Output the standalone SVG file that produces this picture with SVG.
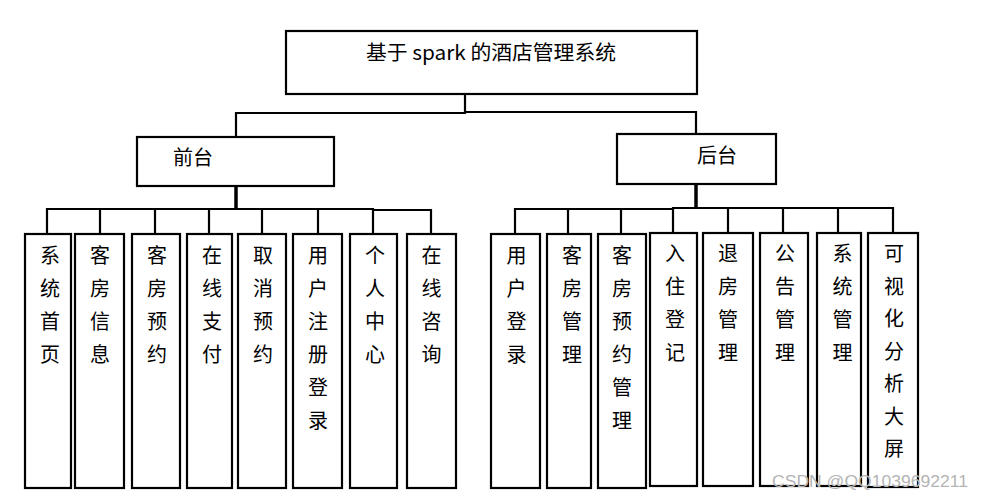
<svg xmlns="http://www.w3.org/2000/svg" width="984" height="501" viewBox="0 0 984 501">
<style>
.box{fill:#fff;stroke:#000;stroke-width:2.2}
.ln{fill:none;stroke:#000;stroke-width:2.2}
.thick{fill:none;stroke:#000;stroke-width:3.5}
.t{font-family:"Noto Sans CJK SC","Noto Sans CJK JP",sans-serif;font-size:20px;fill:#000}
.v{font-family:"Noto Sans CJK SC","Noto Sans CJK JP",sans-serif;font-size:20px;fill:#000;text-anchor:middle}
.wm{font-family:"Liberation Sans",Arial,sans-serif;font-size:16px;fill:#b4b4b4}
</style>
<rect width="984" height="501" fill="#fff"/>
<g id="connectors">
<polyline class="ln" points="465,94 465,113 236,113 236,137"/>
<polyline class="ln" points="465,112 696,112 696,134"/>
<line class="thick" x1="236" y1="186" x2="236" y2="209"/>
<line class="ln" x1="47" y1="209" x2="373" y2="209"/>
<line class="ln" x1="373" y1="210" x2="431" y2="210"/>
<line class="ln" x1="47" y1="208" x2="47" y2="234"/>
<line class="ln" x1="100" y1="208" x2="100" y2="234"/>
<line class="ln" x1="155" y1="208" x2="155" y2="234"/>
<line class="ln" x1="209" y1="208" x2="209" y2="234"/>
<line class="ln" x1="262" y1="208" x2="262" y2="234"/>
<line class="ln" x1="318" y1="208" x2="318" y2="234"/>
<line class="ln" x1="373" y1="208" x2="373" y2="234"/>
<line class="ln" x1="431" y1="209" x2="431" y2="234"/>
<line class="thick" x1="696" y1="184" x2="696" y2="208"/>
<line class="ln" x1="515" y1="209" x2="673" y2="209"/>
<line class="ln" x1="673" y1="208" x2="893" y2="208"/>
<line class="ln" x1="515" y1="208" x2="515" y2="234"/>
<line class="ln" x1="568" y1="208" x2="568" y2="234"/>
<line class="ln" x1="621" y1="208" x2="621" y2="234"/>
<line class="ln" x1="673" y1="207" x2="673" y2="233"/>
<line class="ln" x1="728" y1="207" x2="728" y2="233"/>
<line class="ln" x1="783" y1="207" x2="783" y2="233"/>
<line class="ln" x1="838" y1="207" x2="838" y2="233"/>
<line class="ln" x1="893" y1="207" x2="893" y2="233"/>
</g>
<g id="root">
<rect class="box" x="286" y="31" width="411" height="63"/>
<text class="t" x="366" y="59.5" textLength="250" lengthAdjust="spacingAndGlyphs">基于 spark 的酒店管理系统</text>
</g>
<g id="front">
<rect class="box" x="137" y="137" width="197" height="49"/>
<text class="t" x="173" y="165">前台</text>
</g>
<g id="back">
<rect class="box" x="617" y="134" width="159" height="50"/>
<text class="t" x="697" y="162.5">后台</text>
</g>
<g id="f1"><rect class="box" x="25" y="234" width="46" height="254"/><text class="v" x="50" y="262.5"><tspan x="50">系</tspan><tspan x="50" dy="33">统</tspan><tspan x="50" dy="33">首</tspan><tspan x="50" dy="33">页</tspan></text></g>
<g id="f2"><rect class="box" x="75" y="234" width="49" height="254"/><text class="v" x="100" y="262.5"><tspan x="100">客</tspan><tspan x="100" dy="33">房</tspan><tspan x="100" dy="33">信</tspan><tspan x="100" dy="33">息</tspan></text></g>
<g id="f3"><rect class="box" x="132" y="234" width="48" height="254"/><text class="v" x="157" y="262.5"><tspan x="157">客</tspan><tspan x="157" dy="33">房</tspan><tspan x="157" dy="33">预</tspan><tspan x="157" dy="33">约</tspan></text></g>
<g id="f4"><rect class="box" x="187" y="234" width="45" height="254"/><text class="v" x="212" y="262.5"><tspan x="212">在</tspan><tspan x="212" dy="33">线</tspan><tspan x="212" dy="33">支</tspan><tspan x="212" dy="33">付</tspan></text></g>
<g id="f5"><rect class="box" x="238" y="234" width="48" height="254"/><text class="v" x="263" y="262.5"><tspan x="263">取</tspan><tspan x="263" dy="33">消</tspan><tspan x="263" dy="33">预</tspan><tspan x="263" dy="33">约</tspan></text></g>
<g id="f6"><rect class="box" x="293" y="234" width="49" height="254"/><text class="v" x="318" y="262.5"><tspan x="318">用</tspan><tspan x="318" dy="33">户</tspan><tspan x="318" dy="33">注</tspan><tspan x="318" dy="33">册</tspan><tspan x="318" dy="33">登</tspan><tspan x="318" dy="33">录</tspan></text></g>
<g id="f7"><rect class="box" x="350" y="234" width="47" height="254"/><text class="v" x="375" y="262.5"><tspan x="375">个</tspan><tspan x="375" dy="33">人</tspan><tspan x="375" dy="33">中</tspan><tspan x="375" dy="33">心</tspan></text></g>
<g id="f8"><rect class="box" x="407" y="234" width="49" height="254"/><text class="v" x="431.5" y="262.5"><tspan x="431.5">在</tspan><tspan x="431.5" dy="33">线</tspan><tspan x="431.5" dy="33">咨</tspan><tspan x="431.5" dy="33">询</tspan></text></g>
<g id="b1"><rect class="box" x="491" y="234" width="49" height="254"/><text class="v" x="516.5" y="262.5"><tspan x="516.5">用</tspan><tspan x="516.5" dy="33">户</tspan><tspan x="516.5" dy="33">登</tspan><tspan x="516.5" dy="33">录</tspan></text></g>
<g id="b2"><rect class="box" x="547" y="234" width="44" height="254"/><text class="v" x="572" y="262.5"><tspan x="572">客</tspan><tspan x="572" dy="33">房</tspan><tspan x="572" dy="33">管</tspan><tspan x="572" dy="33">理</tspan></text></g>
<g id="b3"><rect class="box" x="598" y="234" width="48" height="254"/><text class="v" x="622" y="262.5"><tspan x="622">客</tspan><tspan x="622" dy="33">房</tspan><tspan x="622" dy="33">预</tspan><tspan x="622" dy="33">约</tspan><tspan x="622" dy="33">管</tspan><tspan x="622" dy="33">理</tspan></text></g>
<g id="b4"><rect class="box" x="650" y="233" width="47" height="253"/><text class="v" x="675" y="261"><tspan x="675">入</tspan><tspan x="675" dy="33">住</tspan><tspan x="675" dy="33">登</tspan><tspan x="675" dy="33">记</tspan></text></g>
<g id="b5"><rect class="box" x="703" y="233" width="50" height="253"/><text class="v" x="728" y="261"><tspan x="728">退</tspan><tspan x="728" dy="33">房</tspan><tspan x="728" dy="33">管</tspan><tspan x="728" dy="33">理</tspan></text></g>
<g id="b6"><rect class="box" x="760" y="233" width="48" height="253"/><text class="v" x="785" y="261"><tspan x="785">公</tspan><tspan x="785" dy="33">告</tspan><tspan x="785" dy="33">管</tspan><tspan x="785" dy="33">理</tspan></text></g>
<g id="b7"><rect class="box" x="817" y="233" width="44" height="253"/><text class="v" x="842.5" y="261"><tspan x="842.5">系</tspan><tspan x="842.5" dy="33">统</tspan><tspan x="842.5" dy="33">管</tspan><tspan x="842.5" dy="33">理</tspan></text></g>
<g id="b8"><rect class="box" x="868" y="233" width="50" height="254"/><text class="v" x="894" y="261"><tspan x="894">可</tspan><tspan x="894" dy="32.5">视</tspan><tspan x="894" dy="32.5">化</tspan><tspan x="894" dy="32.5">分</tspan><tspan x="894" dy="32.5">析</tspan><tspan x="894" dy="32.5">大</tspan><tspan x="894" dy="32.5">屏</tspan></text></g>
<text class="wm" x="772" y="487" textLength="196" lengthAdjust="spacingAndGlyphs">CSDN @QQ1039692211</text>
</svg>
